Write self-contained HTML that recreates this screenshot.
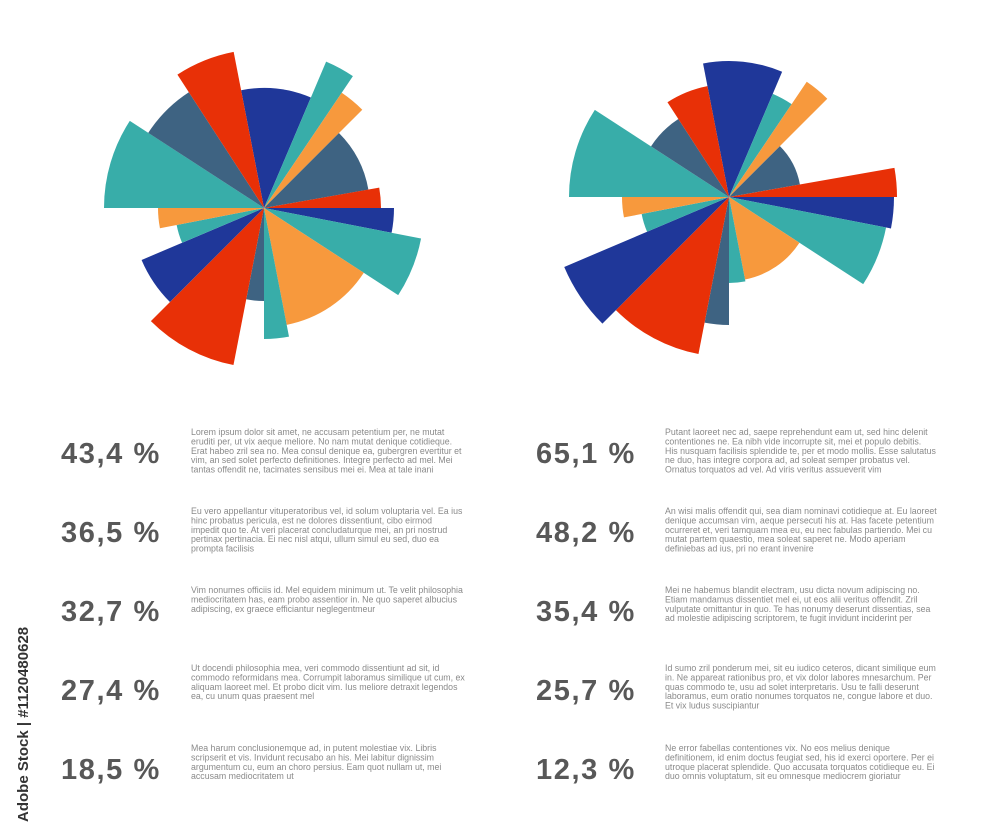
<!DOCTYPE html>
<html><head><meta charset="utf-8"><style>
html,body{margin:0;padding:0;background:#fff;}
svg{display:block;font-family:"Liberation Sans",sans-serif;}
.num{font-size:29px;font-weight:bold;fill:#585858;letter-spacing:1.6px;}
.p{font-size:8.8px;fill:#8a8a8a;}
</style></head><body>
<svg id="svg" width="1000" height="834" viewBox="0 0 1000 834">
<g id="c1"></g>
<g id="c2"></g>
<g id="txt"></g>
<text transform="translate(28,822) rotate(-90)" style="font-size:15px;font-weight:bold;fill:#333">Adobe Stock | #1120480628</text>
</svg>
<script>
const boundaries=[-11,23,34,45,80,90,101,123,169,180,191,225,247,259,270,303,327,349];
const colors=["blue","teal","orange","slate","red","blue","teal","orange","teal","slate","red","blue","teal","orange","teal","slate","red"];
const radiiLeft=[120,159,139,106,117,130,160,119,131,93,160,133,89,106,160,138,159];
const radiiRight=[136,112,139,72,168,165,160,84,86,128,160,179,89,107,160,93,113];
const palette={blue:"#1f3799",teal:"#38ada9",orange:"#f7993d",slate:"#3e6382",red:"#e83007"};
const NS="http://www.w3.org/2000/svg";
function pt(cx,cy,r,a){const t=a*Math.PI/180;return [cx+r*Math.sin(t),cy-r*Math.cos(t)];}
function draw(gid,cx,cy,radii){
  const g=document.getElementById(gid);
  for(let i=0;i<radii.length;i++){
    const a0=boundaries[i],a1=(i+1<boundaries.length?boundaries[i+1]:boundaries[0]+360);
    const p0=pt(cx,cy,radii[i],a0),p1=pt(cx,cy,radii[i],a1);
    const path=document.createElementNS(NS,"path");
    path.setAttribute("d",`M${cx},${cy}L${p0[0]},${p0[1]}A${radii[i]},${radii[i]} 0 0 1 ${p1[0]},${p1[1]}Z`);
    path.setAttribute("fill",palette[colors[i]]);
    
    
    g.appendChild(path);
  }
}
draw("c1",264,208,radiiLeft);
draw("c2",729,197,radiiRight);

const leftValues=["43,4 %","36,5 %","32,7 %","27,4 %","18,5 %"];
const rightValues=["65,1 %","48,2 %","35,4 %","25,7 %","12,3 %"];
const leftParas=[
["Lorem ipsum dolor sit amet, ne accusam petentium per, ne mutat","eruditi per, ut vix aeque meliore. No nam mutat denique cotidieque.","Erat habeo zril sea no. Mea consul denique ea, gubergren evertitur et","vim, an sed solet perfecto definitiones. Integre perfecto ad mel. Mei","tantas offendit ne, tacimates sensibus mei ei. Mea at tale inani"],
["Eu vero appellantur vituperatoribus vel, id solum voluptaria vel. Ea ius","hinc probatus pericula, est ne dolores dissentiunt, cibo eirmod","impedit quo te. At veri placerat concludaturque mei, an pri nostrud","pertinax pertinacia. Ei nec nisl atqui, ullum simul eu sed, duo ea","prompta facilisis"],
["Vim nonumes officiis id. Mel equidem minimum ut. Te velit philosophia","mediocritatem has, eam probo assentior in. Ne quo saperet albucius","adipiscing, ex graece efficiantur neglegentmeur"],
["Ut docendi philosophia mea, veri commodo dissentiunt ad sit, id","commodo reformidans mea. Corrumpit laboramus similique ut cum, ex","aliquam laoreet mel. Et probo dicit vim. Ius meliore detraxit legendos","ea, cu unum quas praesent mel"],
["Mea harum conclusionemque ad, in putent molestiae vix. Libris","scripserit et vis. Invidunt recusabo an his. Mei labitur dignissim","argumentum cu, eum an choro persius. Eam quot nullam ut, mei","accusam mediocritatem ut"]];
const rightParas=[
["Putant laoreet nec ad, saepe reprehendunt eam ut, sed hinc delenit","contentiones ne. Ea nibh vide incorrupte sit, mei et populo debitis.","His nusquam facilisis splendide te, per et modo mollis. Esse salutatus","ne duo, has integre corpora ad, ad soleat semper probatus vel.","Ornatus torquatos ad vel. Ad viris veritus assueverit vim"],
["An wisi malis offendit qui, sea diam nominavi cotidieque at. Eu laoreet","denique accumsan vim, aeque persecuti his at. Has facete petentium","ocurreret et, veri tamquam mea eu, eu nec fabulas partiendo. Mei cu","mutat partem quaestio, mea soleat saperet ne. Modo aperiam","definiebas ad ius, pri no erant invenire"],
["Mei ne habemus blandit electram, usu dicta novum adipiscing no.","Etiam mandamus dissentiet mel ei, ut eos alii veritus offendit. Zril","vulputate omittantur in quo. Te has nonumy deserunt dissentias, sea","ad molestie adipiscing scriptorem, te fugit invidunt inciderint per"],
["Id sumo zril ponderum mei, sit eu iudico ceteros, dicant similique eum","in. Ne appareat rationibus pro, et vix dolor labores mnesarchum. Per","quas commodo te, usu ad solet interpretaris. Usu te falli deserunt","laboramus, eum oratio nonumes torquatos ne, congue labore et duo.","Et vix ludus suscipiantur"],
["Ne error fabellas contentiones vix. No eos melius denique","definitionem, id enim doctus feugiat sed, his id exerci oportere. Per ei","utroque placerat splendide. Quo accusata torquatos cotidieque eu. Ei","duo omnis voluptatum, sit eu omnesque mediocrem gioriatur"]];
const rowNumY=[463,542,621,700,779];
const rowParaY=[435,514,593,671,751];
const tg=document.getElementById("txt");
function col(vals,paras,nx,px){
  for(let i=0;i<vals.length;i++){
    const t=document.createElementNS(NS,"text");
    t.setAttribute("x",nx);t.setAttribute("y",rowNumY[i]);t.setAttribute("class","num");
    t.textContent=vals[i];
    
    
    tg.appendChild(t);
    const p=document.createElementNS(NS,"text");
    p.setAttribute("class","p");
    
    
    paras[i].forEach((line,j)=>{
      const s=document.createElementNS(NS,"tspan");
      s.setAttribute("x",px);s.setAttribute("y",rowParaY[i]+j*9.4);
      s.textContent=line;p.appendChild(s);
    });
    tg.appendChild(p);
  }
}
col(leftValues,leftParas,61,191);
col(rightValues,rightParas,536,665);
</script>
</body></html>
